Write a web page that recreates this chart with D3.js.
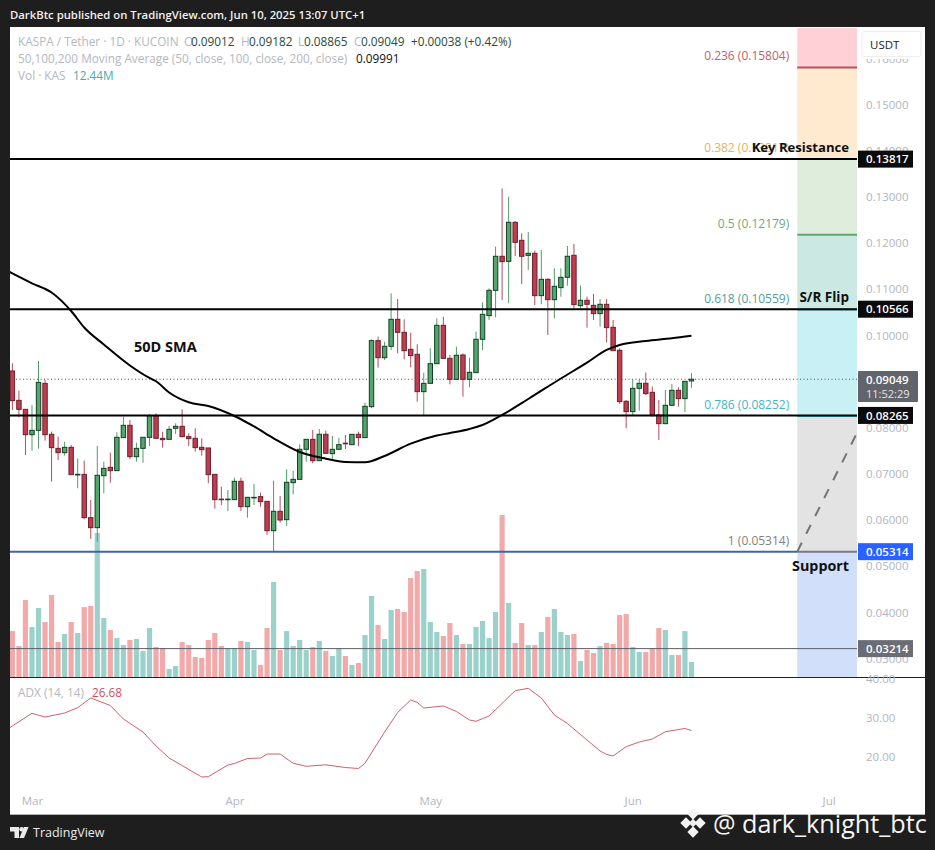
<!DOCTYPE html>
<html>
<head>
<meta charset="utf-8">
<script src="https://cdn.jsdelivr.net/npm/d3@7"></script>
<style>
  html, body { margin: 0; padding: 0; background: #1e1e1e; }
  svg { display: block; }
  text { font-family: "Open Sans", sans-serif; }
</style>
</head>
<body>
<div id="chart"></div>
<script>
// candles, one per day starting Feb 26 2025
var opens = [
  .09228,.08592,.08397,.07848,.07942,.08960,.07856,.07552,.07459,.07574,.06982,.06989,.06051,.05834,.06960,
  .07141,.07069,.07784,.08051,.07372,.07552,.07791,.08260,.07769,.07747,.07986,.08029,.07805,.07769,.07574,
  .07560,.06989,.06452,.06445,.06441,.06838,.06289,.06485,.06506,.06404,.05769,.06188,.06007,.06809,.06881,
  .07531,.07747,.07285,.07856,.07437,.07531,.07664,.07632,.07856,.07784,.08455,.09885,.09516,.09762,.10347,
  .10065,.09697,.09589,.08780,.08960,.09386,.10217,.09502,.09047,.09574,.09047,.09192,.09914,.10426,.10975,
  .11712,.11603,.12448,.12058,.11733,.11777,.10860,.11213,.10773,.11033,.11257,.11733,.10643,.10759,.10650,
  .10470,.10672,.10174,.09676,.08571,.08347,.08852,.08961,.08766,.08275,.08087,.08484,.08809,.08629,.09012];
var highs = [
  .09394,.08802,.08397,.08491,.09444,.09033,.07913,.07805,.07697,.07625,.07336,.07285,.06433,.07603,.07264,
  .07459,.07899,.08238,.08166,.07675,.07791,.08296,.08311,.07913,.08036,.08094,.08397,.07877,.07986,.07769,
  .07560,.06989,.06722,.06650,.06917,.06917,.06491,.06780,.06592,.06404,.06852,.06520,.07098,.07062,.07639,
  .07747,.07950,.07971,.07935,.07820,.07783,.07841,.07856,.07913,.08542,.09913,.09971,.09863,.10910,.10787,
  .10347,.10058,.09805,.09191,.09718,.10368,.10404,.09574,.09755,.09610,.09516,.10080,.10715,.11018,.11921,
  .13184,.13004,.12477,.12210,.12239,.11834,.11849,.11235,.11452,.11452,.11935,.11979,.11076,.10838,.10896,
  .10787,.10787,.10333,.09719,.08600,.09047,.09047,.09192,.08889,.08600,.08816,.08946,.08874,.09004,.09182];
var lows = [
  .08383,.08224,.07408,.07502,.07545,.07719,.06830,.07300,.07394,.06982,.06686,.06015,.05589,.05531,.06578,
  .06809,.07069,.07784,.07314,.07264,.07242,.07603,.07769,.07567,.07747,.07863,.07791,.07603,.07480,.07394,
  .06794,.06246,.06325,.06195,.06441,.06195,.06051,.06325,.06289,.05675,.05300,.05942,.05870,.06556,.06881,
  .07264,.07228,.07285,.07444,.07314,.07531,.07538,.07632,.07603,.07784,.08419,.09300,.09466,.09682,.09610,
  .09480,.09307,.08563,.08274,.08960,.09386,.09502,.08939,.09047,.08672,.08874,.09192,.09683,.10333,.10390,
  .10766,.10694,.11719,.11112,.11416,.10657,.10672,.10008,.10369,.10838,.11076,.10585,.10585,.10167,.10333,
  .10188,.09849,.09668,.08513,.07986,.08275,.08369,.08708,.08239,.07733,.08073,.08470,.08455,.08340,.08865];
var closes = [
  .08585,.08397,.07848,.07942,.08982,.07848,.07567,.07459,.07574,.06982,.06989,.06051,.05834,.06968,.07119,
  .07069,.07791,.08051,.07372,.07552,.07791,.08260,.07769,.07740,.07964,.08029,.07805,.07762,.07567,.07524,
  .06982,.06441,.06445,.06452,.06838,.06289,.06491,.06491,.06397,.05769,.06188,.06000,.06816,.06881,.07531,
  .07747,.07285,.07856,.07444,.07531,.07632,.07658,.07856,.07784,.08462,.09885,.09516,.09762,.10347,.10065,
  .09668,.09560,.08780,.08960,.09386,.10217,.09502,.09047,.09567,.09047,.09199,.09914,.10455,.10975,.11712,
  .11596,.12448,.12015,.11712,.11777,.10860,.11213,.10773,.11062,.11257,.11712,.10665,.10759,.10672,.10470,
  .10672,.10167,.09668,.08564,.08347,.08852,.08961,.08737,.08275,.08087,.08484,.08809,.08629,.09004,.09049];
// volume in millions, same days
var volumes = [
  38.1,25.7,63.8,41.5,57.2,45.6,68.0,29.0,35.7,45.6,36.5,58.0,58.9,119.4,48.9,
  39.0,32.3,26.5,30.7,31.5,21.6,40.6,24.9,24.0,6.6,9.1,29.0,26.5,16.6,15.8,
  30.7,36.5,25.7,24.0,24.0,29.9,29.0,22.4,10.0,40.6,78.8,22.4,38.1,25.7,30.7,
  22.4,24.9,29.9,21.6,17.4,24.0,17.4,10.0,11.6,34.8,67.2,43.1,31.5,55.6,56.4,
  53.9,82.1,87.9,89.6,45.6,37.3,34.0,44.8,34.8,27.4,27.4,41.5,46.4,32.3,53.9,
  134.3,61.4,28.2,44.8,26.5,26.5,37.3,49.8,56.4,37.3,34.8,35.7,13.3,22.4,19.9,
  25.7,28.2,27.4,51.4,52.2,24.9,20.7,20.7,24.0,40.6,39.0,18.2,18.2,38.1,12.44];

// 50D SMA read at these day offsets
var smaDays = [-1,3,6,9,11,14,18,21,22,24,27,30,34,37,40,44,48,51,54,57,61,65,67,70,72,75,79,84,88,91,93,97,101,104];
var smaValues = [.11415,.11127,.10928,.10527,.10170,.09802,.09347,.09076,.09005,.08762,.08550,.08470,.08253,.08026,.07770,.07474,.07328,.07257,.07250,.07387,.07653,.07831,.07885,.07972,.08058,.08275,.08621,.09065,.09408,.09683,.09791,.09878,.09936,.09991];

// ADX read at these day offsets
var adxDays = [-1,3,5,8,10,12,15,17,20,22,24,29,30,33,34,36,38,39,41,43,45,48,51,53,54,57,59,61,62,63,66,68,70,71,73,77,79,81,83,85,90,91,92,94,96,98,100,103,104];
var adxValues = [26.8,31.13,30.18,31.2,32.58,35.08,33.14,29.66,26.31,22.71,19.61,14.72,14.79,17.81,18.2,19.48,19.61,20.64,20.64,18.25,17.47,17.86,17.16,16.91,18.25,26.31,31.34,34.56,33.97,32.5,33.02,31.6,29.41,29.07,30.44,36.96,37.58,35.08,30.7,28.5,21.42,20.52,20.13,22.53,23.74,24.51,26.39,27.22,26.68];

var priceTicks = [.16,.15,.14,.13,.12,.11,.10,.09,.08,.07,.06,.05,.04,.03];
var adxTicks = [40,30,20];

// fib retracement levels
var fibRatios = ['0.236','0.382','0.5','0.618','0.786','1'];
var fibPrices = [.15804,.13817,.12179,.10559,.08252,.05314];
var fibLine = ['#b8505f','#e8b060','#5fa868','#4aa59a','#3dc0cc','#787b86'];
var fibText = ['#c2606c','#e6b265','#6fa97c','#4e9f9c','#45b6bd','#808080'];
var fibFill = ['#ffd1d6','#ffe9cf','#deeddc','#cbe8e2','#c9f0f5','#e3e3e3','#d1dffa'];

var keyLevels = [.13817,.10566,.08265];
var lastPrice = .09049, supportLevel = .05314, thinLevel = .03214;

const W = 935, H = 850;
const paneLeft = 10, paneRight = 857, paneEdge = 925, paneTop = 28, paneBottom = 677, chartBottom = 814;

const day0 = Date.UTC(2025, 1, 26);
function dayDate(i) { return new Date(day0 + i * 864e5); }

const x = d3.scaleUtc().domain([dayDate(0), dayDate(125)]).range([12.4, 828.6]);
const y = d3.scaleLinear().domain([.15, .03]).range([104.5, 658.5]);
const yVol = d3.scaleLinear().domain([0, 100]).range([paneBottom, 556.4]);
const yAdx = d3.scaleLinear().domain([30, 20]).range([717.7, 756.5]);

const svg = d3.select('#chart').append('svg').attr('width', W).attr('height', H);

svg.append('rect').attr('width', W).attr('height', H).attr('fill', '#1e1e1e');
svg.append('rect').attr('x', paneLeft).attr('y', paneTop - 1).attr('width', paneEdge - paneLeft).attr('height', chartBottom - paneTop + 1)
  .attr('fill', '#fff');
svg.append('line').attr('x1', paneLeft).attr('x2', paneEdge).attr('y1', chartBottom + .5).attr('y2', chartBottom + .5).attr('stroke', '#b4b4b4');

const defs = svg.append('defs');
defs.append('clipPath').attr('id', 'plot').append('rect')
  .attr('x', paneLeft).attr('y', paneTop).attr('width', paneRight - paneLeft).attr('height', paneBottom - paneTop);
defs.append('clipPath').attr('id', 'adxPane').append('rect')
  .attr('x', paneLeft).attr('y', paneBottom).attr('width', paneRight - paneLeft).attr('height', chartBottom - paneBottom);

const plot = svg.append('g').attr('clip-path', 'url(#plot)');

// fib bands, the last one runs off the bottom of the pane
const bandX = x(dayDate(120.2));
const bandEdges = [null].concat(fibPrices, [null]);
fibFill.forEach(function(c, i) {
  const y0 = bandEdges[i] === null ? paneTop : y(bandEdges[i]);
  const y1 = bandEdges[i + 1] === null ? paneBottom : y(bandEdges[i + 1]);
  plot.append('rect').attr('x', bandX).attr('y', y0).attr('width', paneRight - bandX).attr('height', y1 - y0).attr('fill', c);
});
fibPrices.forEach(function(p, i) {
  plot.append('line').attr('x1', bandX).attr('x2', paneRight).attr('y1', y(p)).attr('y2', y(p))
    .attr('stroke', fibLine[i]).attr('stroke-width', 2);
});

// last price dotted line
plot.append('line').attr('x1', 16).attr('x2', paneRight).attr('y1', y(lastPrice)).attr('y2', y(lastPrice))
  .attr('stroke', '#3c5a48').attr('stroke-dasharray', '1 2.5');

// volume
const bodyW = 4.4;
plot.selectAll('.vol').data(volumes).join('rect')
  .attr('class', 'vol')
  .attr('x', (d, i) => x(dayDate(i)) - 2.6)
  .attr('y', d => yVol(d))
  .attr('width', 5.2)
  .attr('height', d => yVol(0) - yVol(d))
  .attr('fill', (d, i) => closes[i] >= opens[i] ? '#9ad1cb' : '#f2a9a9');

// candles
const idx = d3.range(opens.length);
plot.selectAll('.wick').data(idx).join('line')
  .attr('class', 'wick')
  .attr('x1', i => x(dayDate(i))).attr('x2', i => x(dayDate(i)))
  .attr('y1', i => y(highs[i])).attr('y2', i => y(lows[i]))
  .attr('stroke', i => closes[i] >= opens[i] ? '#4f9c66' : '#b94a5a')
  .attr('stroke-width', 1);
plot.selectAll('.body').data(idx).join('rect')
  .attr('class', 'body')
  .attr('x', i => x(dayDate(i)) - bodyW / 2)
  .attr('y', i => y(Math.max(opens[i], closes[i])))
  .attr('width', bodyW)
  .attr('height', i => Math.max(Math.abs(y(opens[i]) - y(closes[i])), .6))
  .attr('fill', i => closes[i] >= opens[i] ? '#55a56f' : '#c03c50')
  .attr('stroke', i => closes[i] >= opens[i] ? '#123f22' : '#6e1f2b')
  .attr('stroke-width', 1);

// 50D SMA
const smaLine = d3.line().x((d, i) => x(dayDate(smaDays[i]))).y(d => y(d)).curve(d3.curveMonotoneX);
plot.append('path').attr('d', smaLine(smaValues)).attr('fill', 'none').attr('stroke', '#000').attr('stroke-width', 2);

// horizontal levels
keyLevels.forEach(function(p) {
  plot.append('line').attr('x1', paneLeft).attr('x2', paneRight).attr('y1', y(p)).attr('y2', y(p))
    .attr('stroke', '#000').attr('stroke-width', 2);
});
plot.append('line').attr('x1', paneLeft).attr('x2', bandX).attr('y1', y(supportLevel)).attr('y2', y(supportLevel))
  .attr('stroke', '#3f64ad').attr('stroke-width', 2);
plot.append('line').attr('x1', paneLeft).attr('x2', paneRight).attr('y1', y(thinLevel)).attr('y2', y(thinLevel))
  .attr('stroke', '#5c5f68').attr('stroke-width', 1);

// dashed trend line of the fib tool
plot.append('line')
  .attr('x1', bandX).attr('y1', y(supportLevel))
  .attr('x2', paneRight).attr('y2', y(.07888))
  .attr('stroke', '#737373').attr('stroke-width', 2).attr('stroke-dasharray', '10 10');

// fib labels
fibRatios.forEach(function(r, i) {
  svg.append('text').attr('x', bandX - 8).attr('y', y(fibPrices[i]) - 7).attr('text-anchor', 'end')
    .attr('font-size', 12).attr('fill', fibText[i]).text(r + ' (' + fibPrices[i].toFixed(5) + ')');
});

// annotations
function note(txt, xp, yp, size, anchor) {
  svg.append('text').attr('x', xp).attr('y', yp).attr('text-anchor', anchor || 'end')
    .attr('font-size', size).attr('font-weight', 700).attr('fill', '#111').text(txt);
}
note('50D SMA', 134, 352, 14.5, 'start');
note('Key Resistance', 849, 152, 13.1);
note('S/R Flip', 849, 302, 13.5);
note('Support', 849, 571, 14.3);

// adx pane
svg.append('g').attr('clip-path', 'url(#adxPane)').append('path')
  .attr('d', d3.line().x((d, i) => x(dayDate(adxDays[i]))).y(d => yAdx(d))(adxValues))
  .attr('fill', 'none').attr('stroke', '#d0606c').attr('stroke-width', 1);

svg.append('line').attr('x1', paneLeft).attr('x2', paneEdge).attr('y1', paneBottom + .5).attr('y2', paneBottom + .5).attr('stroke', '#222');

// axes
function styleAxis(g) {
  g.select('.domain').remove();
  g.selectAll('text').attr('fill', '#b2b5be').attr('font-size', 11.5);
}
svg.append('g').attr('transform', 'translate(' + (paneRight + 9) + ',0)')
  .call(d3.axisRight(y).tickValues(priceTicks).tickFormat(d3.format('.5f')).tickSize(0).tickPadding(0))
  .call(styleAxis);
svg.append('g').attr('transform', 'translate(' + (paneRight + 9) + ',0)')
  .call(d3.axisRight(yAdx).tickValues(adxTicks).tickFormat(d3.format('.2f')).tickSize(0).tickPadding(0))
  .call(styleAxis);
svg.append('g').attr('transform', 'translate(0,797)')
  .call(d3.axisBottom(x).ticks(d3.utcMonth.every(1)).tickFormat(d3.utcFormat('%b')).tickSize(0).tickPadding(0))
  .call(styleAxis);

// price tags on the axis
function tag(p, txt, fill, w) {
  const yp = y(p);
  svg.append('rect').attr('x', paneRight + 1).attr('y', yp - 8.5).attr('width', w || 55).attr('height', 17).attr('fill', fill);
  svg.append('text').attr('x', paneRight + 9).attr('y', yp + 4.2).attr('font-size', 11.5).attr('font-weight', 600)
    .attr('fill', '#fff').text(txt);
}
tag(.13817, '0.13817', '#0b0b0b');
tag(.10566, '0.10566', '#0b0b0b');
tag(.08265, '0.08265', '#0b0b0b');
tag(supportLevel, '0.05314', '#2962ff');
tag(thinLevel, '0.03214', '#6a6d75');
svg.append('rect').attr('x', paneRight + 1).attr('y', 371).attr('width', 60).attr('height', 31).attr('fill', '#62646c').attr('rx', 1);
svg.append('text').attr('x', paneRight + 9).attr('y', 383.5).attr('font-size', 11.5).attr('font-weight', 600).attr('fill', '#fff').text(lastPrice.toFixed(5));
svg.append('text').attr('x', paneRight + 9).attr('y', 398).attr('font-size', 11).attr('fill', '#e3e3e3').text('11:52:29');

// unit button, its white margin hides the top of the 0.16000 tick
svg.append('rect').attr('x', 860).attr('y', 29).attr('width', 63).attr('height', 30).attr('fill', '#fff');
svg.append('rect').attr('x', 862).attr('y', 31.5).attr('width', 59).attr('height', 25).attr('rx', 2)
  .attr('fill', '#fff').attr('stroke', '#eeeeee');
svg.append('text').attr('x', 870).attr('y', 49).attr('font-size', 11.5).attr('fill', '#222').text('USDT');

// legend
function legend(txt, xp, yp, fill) {
  svg.append('text').attr('x', xp).attr('y', yp).attr('font-size', 11.8).attr('fill', fill).text(txt);
}
const grey = '#b4b7bd', dark = '#2a4a3c';
legend('KASPA / Tether · 1D · KUCOIN', 18, 46, grey);
legend('O', 184, 46, grey); legend('0.09012', 191, 46, dark);
legend('H', 241, 46, grey); legend('0.09182', 249, 46, dark);
legend('L', 298, 46, grey); legend('0.08865', 304, 46, dark);
legend('C', 354, 46, grey); legend('0.09049', 361, 46, dark);
legend('+0.00038 (+0.42%)', 411, 46, dark);
legend('50,100,200 Moving Average (50, close, 100, close, 200, close)', 18, 63, grey);
legend('0.09991', 356, 63, '#111');
legend('Vol · KAS', 18, 80, grey);
legend('12.44M', 73, 80, '#4fa9a5');
legend('ADX (14, 14)', 18, 697, grey);
legend('26.68', 92, 697, '#d0505f');

// header and footer
svg.append('text').attr('x', 10).attr('y', 19).attr('font-size', 11.3).attr('font-weight', 600).attr('fill', '#f0f0f0')
  .text('DarkBtc published on TradingView.com, Jun 10, 2025 13:07 UTC+1');

const tv = svg.append('g').attr('fill', '#eaeaea');
tv.append('path').attr('d', 'M10 827h9v11h-4.5v-6.5H10z');
tv.append('circle').attr('cx', 21.6).attr('cy', 829.3).attr('r', 2.3);
tv.append('path').attr('d', 'M24 827h4.6l-4.6 11h-4.6z');
svg.append('text').attr('x', 33).attr('y', 837).attr('font-size', 12.5).attr('fill', '#eaeaea').text('TradingView');

// watermark
const wm = svg.append('g').attr('fill', '#f2f2f2');
[[693, 814, 4], [686, 823, 4], [700, 823, 4], [693, 823, 3], [693, 832, 4]].forEach(function(d) {
  wm.append('rect').attr('x', d[0] - d[2]).attr('y', d[1] - d[2]).attr('width', d[2] * 2).attr('height', d[2] * 2)
    .attr('transform', 'rotate(45 ' + d[0] + ' ' + d[1] + ')');
});
svg.append('text').attr('x', 713).attr('y', 833).attr('font-size', 25.2).attr('fill', '#f4f4f4').text('@ dark_knight_btc');
</script>
</body>
</html>
